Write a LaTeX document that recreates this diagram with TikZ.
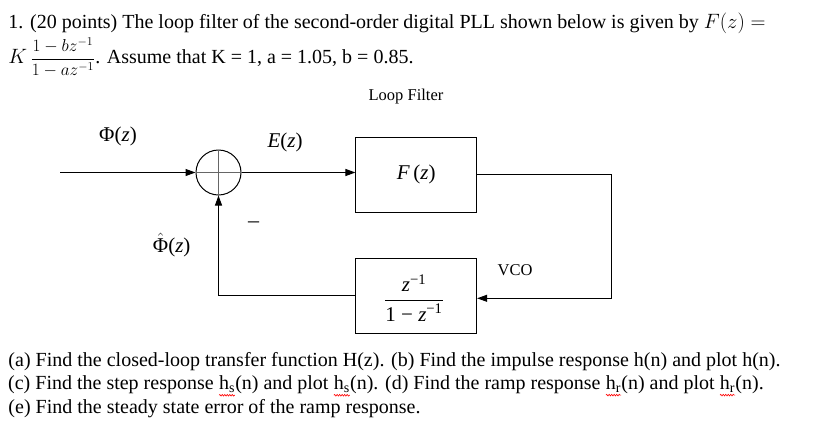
\documentclass[tikz,border=0pt]{standalone}
\usepackage{amsmath}
\usepackage{fontspec}
\setmainfont{Liberation Serif}
\usetikzlibrary{arrows.meta,decorations.pathmorphing}
\newcommand{\sq}[1]{\tikz[baseline=(w.base),x=1pt,y=1pt,line width=0.6pt]{\node[inner sep=0pt,outer sep=0pt](w){#1};\draw[red,decorate,decoration={snake,amplitude=0.8pt,segment length=2.5pt}] ([yshift=-3pt]w.south west) -- ([yshift=-3pt]w.south east);}}
\begin{document}
\begin{tikzpicture}[x=1pt,y=-1pt, line width=1pt,
  blk/.style={draw, minimum width=120.7pt, minimum height=75pt, inner sep=0pt},
  arr/.style={-{Triangle[length=10pt,width=7pt]}},
  txt/.style={font=\fontsize{20}{24}\selectfont, inner sep=0pt, anchor=base west},
  lbl/.style={font=\fontsize{16.5}{20}\selectfont, inner sep=0pt},
  sym/.style={font=\fontsize{21}{24}\selectfont, inner sep=0pt}]
\useasboundingbox (0,0) rectangle (829,429);
% question text
\node[txt] (l1) at (8,28) {1. (20 points) The loop filter of the second-order digital PLL shown below is given by $F(z) =$};
\node[txt] (l2) at (8,63.5) {$K$\,{\fontsize{17.28}{18}\selectfont$\dfrac{1-bz^{-1}}{1-az^{-1}}$}. Assume that K = 1, a = 1.05, b = 0.85.};
\node[txt] (l3) at (8,366) {(a) Find the closed-loop transfer function H(z). (b) Find the impulse response h(n) and plot h(n).};
\node[txt] (l4) at (8,389) {(c) Find the step response \sq{h\textsubscript{s}}(n) and plot \sq{h\textsubscript{s}}(n). (d) Find the ramp response \sq{h\textsubscript{r}}(n) and plot \sq{h\textsubscript{r}}(n).};
\node[txt] (l5) at (8,413) {(e) Find the steady state error of the ramp response.};
% diagram
\node[circle, draw, minimum size=45pt, inner sep=0pt] (sum) at (218.5,172.5) {};
\draw[gray!80!black] (sum.north) -- (sum.south);
\draw[gray!80!black] (sum.west) -- (sum.east);
\node[blk] (F) at (416.3,174.8) {};
\node[sym] (Ft) at (416.3,174.8) {\textit{F}\,(\textit{z})};
\node[blk] (V) at (416.3,295.8) {};
\node[sym, font=\fontsize{21}{24}\selectfont] (Vt) at (414,298) {$\displaystyle\frac{\text{\textit{z}}^{\text{−1}}}{\text{1 − \textit{z}}^{\text{−1}}}$};
\coordinate (in) at (60,172.5);
\coordinate (c1) at (611.7,174.8);
\coordinate (c2) at (611.7,298.3);
\draw[arr] (in) -- (sum.west);
\draw[arr] (sum.east) -- (F.west |- sum.east);
\draw[arr] (F.east) -- (c1) -- (c2) -- (V.east |- c2);
\draw[arr] (V.west) -- (sum.south |- V.west) -- (sum.south);
% labels
\node[sym] (phi) at (118,136) {Φ(\textit{z})};
\node[sym] (E) at (285,142) {\textit{E}(\textit{z})};
\node[sym] (phih) at (171.7,245) {$\hat{\text{Φ}}$(\textit{z})};
\node[inner sep=0pt, font=\fontsize{22}{22}\selectfont] (neg) at (253.5,225) {–};
\node[lbl] (lf) at (406,97) {Loop Filter};
\node[lbl] (vco) at (515,270) {VCO};
\end{tikzpicture}
\end{document}
